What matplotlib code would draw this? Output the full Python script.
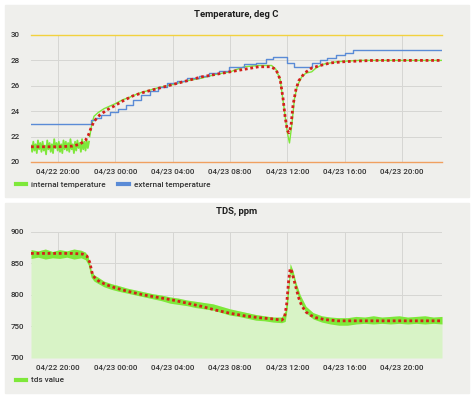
import matplotlib
matplotlib.use("Agg")
import matplotlib.pyplot as plt
import numpy as np
from matplotlib.lines import Line2D
from matplotlib.patches import Rectangle

plt.rcParams['font.family'] = ['Roboto', 'DejaVu Sans']
plt.rcParams['font.weight'] = 'medium'

# hours since 04/22 00:00
tick_hours = [20, 24, 28, 32, 36, 40, 44]
tick_labels = ['04/22 20:00', '04/23 00:00', '04/23 04:00', '04/23 08:00',
               '04/23 12:00', '04/23 16:00', '04/23 20:00']

# internal temperature: noisy start, then smoother part
int_noise = [21.3, 20.8, 21.6, 20.9, 21.4, 20.7, 21.7, 21.0, 21.5, 20.8, 21.6, 20.9, 21.3,
             20.6, 21.7, 21.0, 21.5, 20.8, 21.4, 20.7, 21.8, 21.1, 21.5, 20.9, 21.6, 20.8,
             21.4, 20.7, 21.7, 21.0, 21.6, 20.9, 21.5, 20.8, 21.8, 21.0, 21.4, 20.7, 21.6,
             20.9, 21.7, 21.1, 21.5, 20.8, 21.8, 21.0, 21.6, 20.9, 21.7, 21.1, 21.6]
int_t = [22.2, 22.35, 22.5, 22.8, 23.2, 23.6, 24.0, 24.5, 25.0, 25.6, 26.2, 27.0, 28.0, 29.0,
         30.0, 31.0, 32.0, 33.0, 34.0, 34.9, 35.2, 35.5, 35.8, 36.0, 36.15, 36.3, 36.5, 36.7,
         37.0, 37.3, 37.7, 38.0, 38.5, 39.5, 41.0, 46.8]
int_v = [22.0, 23.0, 23.6, 23.9, 24.2, 24.4, 24.6, 24.9, 25.1, 25.4, 25.6, 25.85, 26.1, 26.4,
         26.6, 26.9, 27.1, 27.5, 27.6, 27.6, 27.3, 26.5, 24.0, 22.3, 21.5, 22.8, 25.0, 26.0,
         26.7, 27.0, 27.1, 27.4, 27.7, 27.9, 28.0, 28.0]

# external temperature (stepped)
ext_t = [18.1, 22.3, 22.6, 23.0, 23.6, 24.2, 24.7, 25.2, 25.8, 26.4, 27.0, 27.6, 28.3, 29.0,
         29.8, 30.5, 31.2, 31.9, 33.0, 33.8, 34.5, 35.0, 35.7, 36.0, 36.5, 37.3, 37.7, 38.3,
         38.8, 39.4, 40.0, 40.6, 46.8]
ext_v = [23.0, 23.3, 23.5, 23.7, 23.9, 24.2, 24.5, 24.9, 25.3, 25.6, 25.9, 26.2, 26.4, 26.6,
         26.8, 27.0, 27.2, 27.5, 27.7, 27.8, 28.1, 28.3, 28.3, 27.8, 27.5, 27.5, 27.8, 28.0,
         28.2, 28.4, 28.6, 28.8, 28.8]

# fitted temperature (red dotted)
fit_t = [18.1, 20.0, 21.0, 21.5, 21.9, 22.1, 22.3, 22.5, 22.9, 23.4, 23.9, 24.5, 25.2, 26.0,
         27.0, 28.0, 29.0, 30.0, 31.0, 32.0, 33.0, 34.0, 34.8, 35.2, 35.5, 35.7, 35.85, 36.0,
         36.1, 36.25, 36.4, 36.6, 36.8, 37.2, 37.7, 38.3, 39.0, 40.0, 42.0, 46.8]
fit_v = [21.2, 21.2, 21.25, 21.4, 21.7, 22.1, 22.7, 23.2, 23.7, 24.1, 24.4, 24.8, 25.2, 25.5,
         25.8, 26.1, 26.4, 26.7, 26.9, 27.1, 27.3, 27.5, 27.5, 27.3, 26.5, 25.0, 23.5, 22.5,
         22.3, 22.8, 24.5, 25.7, 26.4, 27.0, 27.4, 27.6, 27.8, 27.9, 28.0, 28.0]

# TDS band (green) and fit
tds_t = [18.1, 18.6, 19.1, 19.6, 20.1, 20.6, 21.1, 21.6, 21.9, 22.1, 22.3, 22.5, 22.8, 23.2,
         23.7, 24.2, 24.8, 25.4, 26.0, 26.6, 27.2, 27.8, 28.4, 29.0, 29.6, 30.2, 30.8, 31.4,
         32.0, 32.6, 33.2, 33.8, 34.4, 35.0, 35.6, 35.85, 36.0, 36.2, 36.4, 36.6, 36.9, 37.3,
         37.8, 38.4, 39.0, 39.6, 40.2, 40.8, 41.4, 42.0, 42.6, 43.2, 43.8, 44.4, 45.0, 45.6,
         46.2, 46.8]
tds_hi = [872, 870, 873, 869, 872, 870, 873, 871, 868, 860, 840, 832, 828, 822, 818, 815, 811,
          808, 805, 802, 800, 797, 795, 792, 790, 788, 786, 782, 778, 775, 772, 769, 767, 765,
          765, 775, 805, 850, 838, 820, 800, 782, 772, 767, 765, 764, 764, 766, 765, 767, 765,
          766, 767, 765, 766, 767, 765, 766]
tds_lo = [858, 860, 857, 859, 858, 860, 857, 859, 856, 848, 828, 822, 818, 813, 809, 806, 803,
          800, 797, 794, 791, 787, 785, 783, 780, 778, 776, 772, 768, 766, 763, 760, 759, 757,
          756, 758, 780, 835, 828, 808, 788, 772, 762, 757, 754, 752, 752, 754, 755, 754, 755,
          754, 755, 754, 755, 754, 755, 754]
tds_fit_t = [18.1, 21.0, 21.7, 22.0, 22.2, 22.4, 22.6, 22.9, 23.4, 23.9, 24.5, 25.2, 26.0,
             27.0, 28.0, 29.0, 30.0, 31.0, 32.0, 33.0, 34.0, 35.0, 35.6, 35.8, 35.95, 36.1,
             36.2, 36.3, 36.45, 36.6, 36.8, 37.0, 37.3, 37.6, 38.0, 38.6, 39.5, 41.0, 46.8]
tds_fit_v = [866, 866, 865, 862, 852, 832, 826, 821, 816, 812, 808, 804, 800, 796, 792, 787,
             782, 776, 771, 767, 764, 762, 760, 764, 785, 825, 842, 838, 825, 812, 795, 783,
             773, 768, 764, 761, 759, 759, 759]

green = '#7ee83a'
blue = '#5a8bd6'
red = '#d3201c'
bg = '#efefec'
grid_c = '#d6d6d3'
txt = '#333333'
xlim = (18.1, 46.8)

fig = plt.figure(figsize=(4.74, 3.97), dpi=100)
fig.patch.set_facecolor('white')
fig.patches.append(Rectangle((5 / 474, 1 - 197 / 397), 464 / 474, 192 / 397,
                             transform=fig.transFigure, color=bg, zorder=-5))
fig.patches.append(Rectangle((5 / 474, 1 - 393 / 397), 464 / 474, 190 / 397,
                             transform=fig.transFigure, color=bg, zorder=-5))

ax1 = fig.add_axes([31 / 474, 1 - 162 / 397, 411 / 474, 127 / 397])
ax2 = fig.add_axes([31 / 474, 1 - 358 / 397, 411 / 474, 126 / 397])

for ax in (ax1, ax2):
    ax.set_facecolor(bg)
    for s in ax.spines.values():
        s.set_visible(False)
    ax.set_xlim(*xlim)
    ax.set_xticks(tick_hours)
    ax.set_xticklabels(tick_labels)
    ax.tick_params(length=0, labelsize=5.8, colors=txt, pad=5)
    ax.tick_params(axis='y', pad=14.5)
    ax.grid(True, color=grid_c, lw=0.7)
    ax.set_axisbelow(True)

# temperature
ax1.set_ylim(20, 30)
ax1.set_yticks([20, 22, 24, 26, 28, 30])
ax1.axhline(30, color='#f2d13e', lw=1, clip_on=False)
ax1.axhline(20, color='#f0a060', lw=1, clip_on=False)
noise_t = np.linspace(18.1, 22.15, len(int_noise))
ax1.plot(noise_t, int_noise, color=green, lw=1.3)
ax1.plot(int_t, int_v, color=green, lw=1.0)
ax1.plot(ext_t, ext_v, color=blue, lw=1.0, drawstyle='steps-post')
ax1.plot(fit_t, fit_v, color=red, lw=2, ls=(0, (1, 1)))
ax1.set_title('Temperature, deg C', fontsize=6.8, color='#1e1e1e', pad=13, fontweight='bold')
h1 = [Line2D([], [], color=green, lw=3), Line2D([], [], color=blue, lw=3)]
ax1.legend(h1, ['internal temperature', 'external temperature'], loc='upper left',
           bbox_to_anchor=(-0.055, -0.09), ncol=2, frameon=False, fontsize=5.9,
           handlelength=1.3, columnspacing=1.5, handletextpad=0.6, labelcolor=txt)

# TDS
ax2.set_ylim(700, 900)
ax2.set_yticks([700, 750, 800, 850, 900])
ax2.fill_between(tds_t, 700, tds_hi, color='#d8f3c6', lw=0)
ax2.fill_between(tds_t, tds_lo, tds_hi, color=green, lw=0)
ax2.plot(tds_fit_t, tds_fit_v, color=red, lw=2, ls=(0, (1, 1)))
ax2.set_title('TDS, ppm', fontsize=6.8, color='#1e1e1e', pad=13, fontweight='bold')
h2 = [Line2D([], [], color=green, lw=3)]
ax2.legend(h2, ['tds value'], loc='upper left', bbox_to_anchor=(-0.055, -0.09),
           frameon=False, fontsize=5.9, handlelength=1.3, handletextpad=0.6,
           labelcolor=txt)

for ax in (ax1, ax2):
    for lbl in ax.get_yticklabels():
        lbl.set_ha('left')

fig.savefig('out.png', dpi=100)
